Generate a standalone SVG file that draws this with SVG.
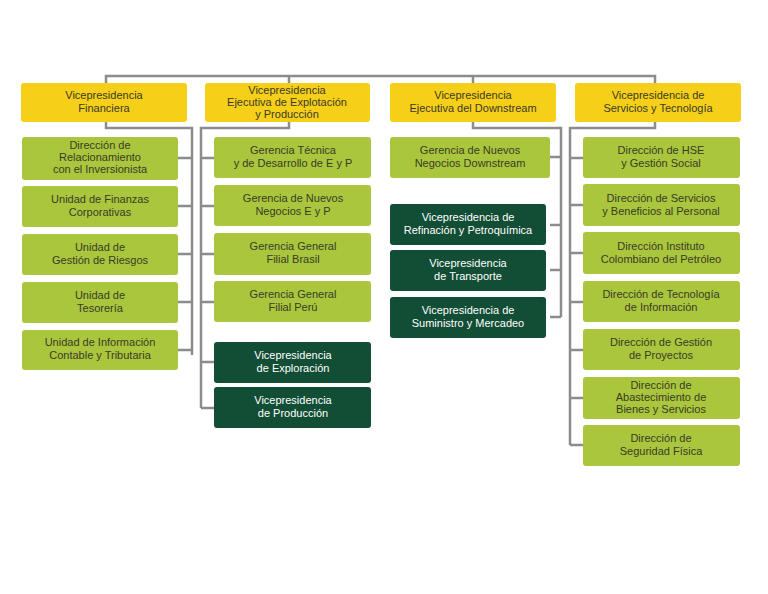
<svg xmlns="http://www.w3.org/2000/svg" width="768" height="594" viewBox="0 0 768 594">
<style>
.y{fill:#f6cf19}.g{fill:#a9c63c}.d{fill:#124d35}
text{font-family:"Liberation Sans",Arial,sans-serif;font-size:11px;text-anchor:middle;fill:#3a3a2a}
.w{fill:#ffffff}
#connectors path{fill:none;stroke:#8c8c8c;stroke-width:2.5}
</style>
<rect width="768" height="594" fill="#fff"/>
<g id="connectors">
<path d="M106,83V76H655V83M289,76V83M473,76V83"/>
<path d="M106,122V128H192V355M178,158H192M178,206H192M178,254H192M178,302H192M178,350H192"/>
<path d="M289,122V128H201V408M201,158H214M201,206H214M201,254H214M201,302H214M201,362H214M201,408H214"/>
<path d="M473,122V128H561V317M550,157H561M550,225H561M550,270H561M550,317H561"/>
<path d="M655,122V128H570V445M570,158H583M570,205H583M570,253H583M570,302H583M570,350H583M570,398H583M570,445H583"/>
</g>
<g id="vp-fin"><rect class="y" x="21" y="83" width="166" height="39" rx="3"/><text x="104" y="99">Vicepresidencia</text><text x="104" y="112">Financiera</text></g>
<g id="vp-exp"><rect class="y" x="205" y="83" width="165" height="39" rx="3"/><text x="287" y="94">Vicepresidencia</text><text x="287" y="106">Ejecutiva de Explotación</text><text x="287" y="118">y Producción</text></g>
<g id="vp-down"><rect class="y" x="390" y="83" width="166" height="39" rx="3"/><text x="473" y="99">Vicepresidencia</text><text x="473" y="112">Ejecutiva del Downstream</text></g>
<g id="vp-serv"><rect class="y" x="575" y="83" width="166" height="39" rx="3"/><text x="658" y="99">Vicepresidencia de</text><text x="658" y="112">Servicios y Tecnología</text></g>

<g id="f1"><rect class="g" x="22" y="137" width="156" height="43" rx="3"/><text x="100" y="149">Dirección de</text><text x="100" y="161">Relacionamiento</text><text x="100" y="173">con el Inversionista</text></g>
<g id="f2"><rect class="g" x="22" y="186" width="156" height="41" rx="3"/><text x="100" y="203">Unidad de Finanzas</text><text x="100" y="216">Corporativas</text></g>
<g id="f3"><rect class="g" x="22" y="234" width="156" height="41" rx="3"/><text x="100" y="251">Unidad de</text><text x="100" y="264">Gestión de Riesgos</text></g>
<g id="f4"><rect class="g" x="22" y="282" width="156" height="41" rx="3"/><text x="100" y="299">Unidad de</text><text x="100" y="312">Tesorería</text></g>
<g id="f5"><rect class="g" x="22" y="330" width="156" height="40" rx="3"/><text x="100" y="346">Unidad de Información</text><text x="100" y="359">Contable y Tributaria</text></g>

<g id="e1"><rect class="g" x="214" y="137" width="157" height="41" rx="3"/><text x="293" y="154">Gerencia Técnica</text><text x="293" y="167">y de Desarrollo de E y P</text></g>
<g id="e2"><rect class="g" x="214" y="185" width="157" height="41" rx="3"/><text x="293" y="202">Gerencia de Nuevos</text><text x="293" y="215">Negocios E y P</text></g>
<g id="e3"><rect class="g" x="214" y="233" width="157" height="42" rx="3"/><text x="293" y="250">Gerencia General</text><text x="293" y="263">Filial Brasil</text></g>
<g id="e4"><rect class="g" x="214" y="281" width="157" height="41" rx="3"/><text x="293" y="298">Gerencia General</text><text x="293" y="311">Filial Perú</text></g>
<g id="e5"><rect class="d" x="214" y="342" width="157" height="41" rx="3"/><text class="w" x="293" y="359">Vicepresidencia</text><text class="w" x="293" y="372">de Exploración</text></g>
<g id="e6"><rect class="d" x="214" y="387" width="157" height="41" rx="3"/><text class="w" x="293" y="404">Vicepresidencia</text><text class="w" x="293" y="417">de Producción</text></g>

<g id="d1"><rect class="g" x="390" y="137" width="160" height="41" rx="3"/><text x="470" y="154">Gerencia de Nuevos</text><text x="470" y="167">Negocios Downstream</text></g>
<g id="d2"><rect class="d" x="390" y="204" width="156" height="41" rx="3"/><text class="w" x="468" y="221">Vicepresidencia de</text><text class="w" x="468" y="234">Refinación y Petroquímica</text></g>
<g id="d3"><rect class="d" x="390" y="250" width="156" height="41" rx="3"/><text class="w" x="468" y="267">Vicepresidencia</text><text class="w" x="468" y="280">de Transporte</text></g>
<g id="d4"><rect class="d" x="390" y="297" width="156" height="41" rx="3"/><text class="w" x="468" y="314">Vicepresidencia de</text><text class="w" x="468" y="327">Suministro y Mercadeo</text></g>

<g id="s1"><rect class="g" x="583" y="137" width="157" height="41" rx="3"/><text x="661" y="154">Dirección de HSE</text><text x="661" y="167">y Gestión Social</text></g>
<g id="s2"><rect class="g" x="583" y="184" width="157" height="42" rx="3"/><text x="661" y="202">Dirección de Servicios</text><text x="661" y="215">y Beneficios al Personal</text></g>
<g id="s3"><rect class="g" x="583" y="232" width="157" height="42" rx="3"/><text x="661" y="250">Dirección Instituto</text><text x="661" y="263">Colombiano del Petróleo</text></g>
<g id="s4"><rect class="g" x="583" y="281" width="157" height="41" rx="3"/><text x="661" y="298">Dirección de Tecnología</text><text x="661" y="311">de Información</text></g>
<g id="s5"><rect class="g" x="583" y="329" width="157" height="41" rx="3"/><text x="661" y="346">Dirección de Gestión</text><text x="661" y="359">de Proyectos</text></g>
<g id="s6"><rect class="g" x="583" y="377" width="157" height="42" rx="3"/><text x="661" y="389">Dirección de</text><text x="661" y="401">Abastecimiento de</text><text x="661" y="413">Bienes y Servicios</text></g>
<g id="s7"><rect class="g" x="583" y="425" width="157" height="41" rx="3"/><text x="661" y="442">Dirección de</text><text x="661" y="455">Seguridad Física</text></g>
</svg>
